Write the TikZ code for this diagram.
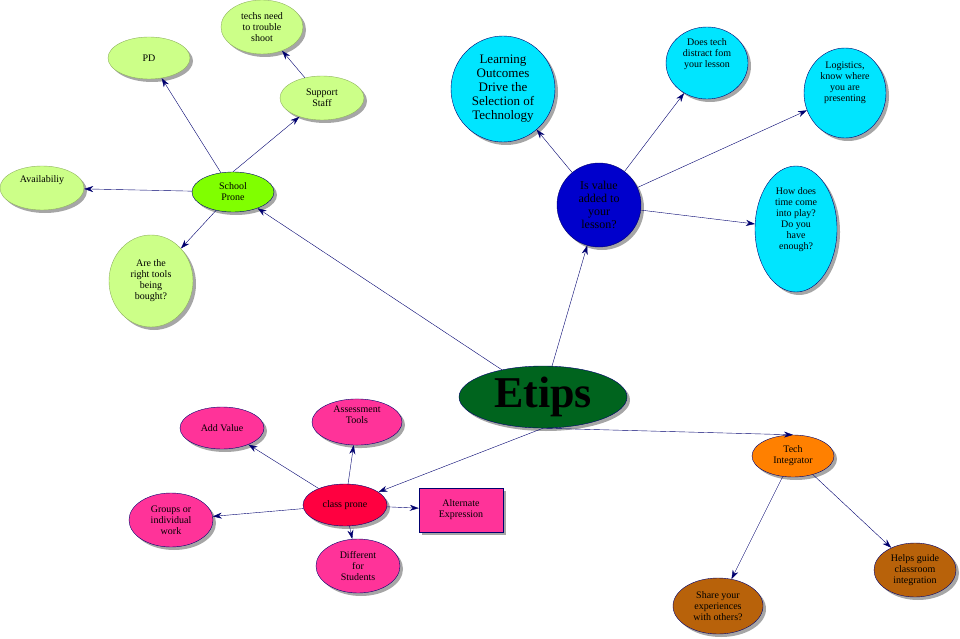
\documentclass[tikz,border=0pt]{standalone}
\usepackage{fontspec}
\setmainfont{Liberation Serif}
\usetikzlibrary{shapes.geometric,shadows,arrows.meta}
\definecolor{lg}{RGB}{204,255,136}
\definecolor{sg}{RGB}{128,255,0}
\definecolor{cy}{RGB}{0,229,255}
\definecolor{bl}{RGB}{0,0,204}
\definecolor{dg}{RGB}{0,100,30}
\definecolor{pk}{RGB}{255,51,153}
\definecolor{rd}{RGB}{255,0,64}
\definecolor{og}{RGB}{255,128,0}
\definecolor{br}{RGB}{184,98,10}
\definecolor{edge}{RGB}{0,0,110}
\tikzset{
 bub/.style={ellipse,draw=edge,inner sep=0pt,align=center,font=\fontsize{10}{11}\selectfont,
   drop shadow={shadow xshift=3pt,shadow yshift=-3pt,fill=black!35,opacity=1}},
 gn/.style={bub,fill=lg,draw=lg!70!black},
 cn/.style={bub,fill=cy},
 pn/.style={bub,fill=pk},
 bn/.style={bub,fill=br},
 con/.style={draw=edge,-{Stealth[length=9pt,width=6pt]}},
}
\begin{document}
\begin{tikzpicture}[x=1pt,y=-1pt]
\useasboundingbox (0,0) rectangle (960,639);
\node[bub,fill=dg,minimum width=168pt,minimum height=62pt,font=\fontsize{44}{44}\selectfont\bfseries] (etips) at (543,397) {Etips};
\node[bub,fill=sg,minimum width=82pt,minimum height=40pt] (school) at (233,192) {School\\Prone};
\node[gn,minimum width=82pt,minimum height=42pt] (pd) at (149,58) {PD};
\node[gn,minimum width=82pt,minimum height=54pt] (techs) at (262,27) {techs need\\to trouble\\shoot};
\node[gn,minimum width=84pt,minimum height=44pt] (support) at (322,98) {Support\\Staff};
\node[gn,minimum width=84pt,minimum height=44pt] (avail) at (42,188) {Availabiliy\\[6pt]};
\node[gn,minimum width=84pt,minimum height=92pt] (tools) at (151,281) {Are the\\right tools\\being\\bought?};
\node[bub,fill=bl,minimum width=84pt,minimum height=84pt,font=\fontsize{12}{13}\selectfont] (value) at (599,205) {Is value\\added to\\your\\lesson?};
\node[cn,minimum width=104pt,minimum height=106pt,font=\fontsize{13}{14}\selectfont] (learn) at (503,89) {Learning\\Outcomes\\Drive the\\Selection of\\Technology};
\node[cn,minimum width=82pt,minimum height=72pt] (distract) at (707,63) {Does tech\\distract fom\\your lesson\\[8pt]};
\node[cn,minimum width=82pt,minimum height=90pt] (logis) at (845,93) {Logistics,\\know where\\you are\\presenting\\[12pt]};
\node[cn,minimum width=82pt,minimum height=126pt] (time) at (796,229) {How does\\time come\\into play?\\Do you\\have\\enough?\\[10pt]};
\node[bub,fill=og,minimum width=82pt,minimum height=42pt] (tech) at (793,456) {Tech\\Integrator};
\node[bn,minimum width=82pt,minimum height=54pt] (helps) at (915,570) {Helps guide\\classroom\\integration};
\node[bn,minimum width=90pt,minimum height=56pt] (share) at (718,606) {Share your\\experiences\\with others?};
\node[bub,fill=rd,minimum width=84pt,minimum height=42pt] (class) at (345,505) {class prone};
\node[pn,minimum width=84pt,minimum height=42pt] (add) at (222,428) {Add Value};
\node[pn,minimum width=90pt,minimum height=42pt] (assess) at (357,422) {Assessment\\Tools\\[4pt]};
\node[pn,minimum width=84pt,minimum height=54pt] (groups) at (171,520) {Groups or\\individual\\work};
\node[pn,minimum width=84pt,minimum height=54pt] (diff) at (358,566) {Different\\for\\Students};
\node[rectangle,draw=edge,fill=pk,minimum width=84pt,minimum height=44pt,align=center,font=\fontsize{10}{11}\selectfont,
   drop shadow={shadow xshift=3pt,shadow yshift=-3pt,fill=black!35,opacity=1}] (alt) at (461,510) {Alternate\\Expression};
\draw[con] (etips) -- (school);
\draw[con] (etips) -- (value);
\draw[con] (etips.south) -- (class);
\draw[con] (etips.south) -- (tech.north);
\draw[con] (school) -- (pd);
\draw[con] (school.north) -- (support);
\draw[con] (support) -- (techs);
\draw[con] (school) -- (avail);
\draw[con] (school) -- (tools);
\draw[con] (value) -- (learn);
\draw[con] (value) -- (distract);
\draw[con] (value) -- (logis);
\draw[con] (value) -- (time);
\draw[con] (tech) -- (share);
\draw[con] (tech) -- (helps);
\draw[con] (class) -- (add);
\draw[con] (class) -- (assess);
\draw[con] (class) -- (groups);
\draw[con] (class) -- (diff);
\draw[con] (class) -- (alt);
\end{tikzpicture}
\end{document}
